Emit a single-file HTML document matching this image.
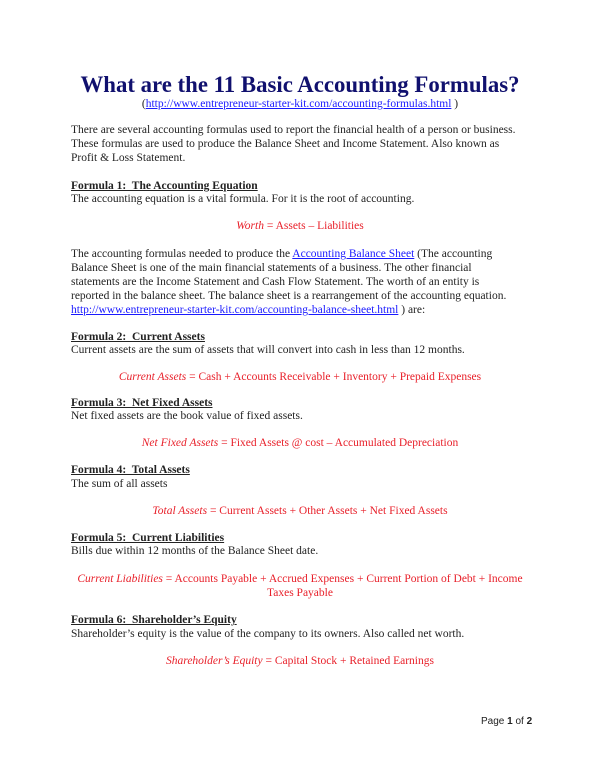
<!DOCTYPE html>
<html><head><meta charset="utf-8"><style>
body{margin:0;width:600px;height:776px;background:#fff;position:relative;overflow:hidden;font-family:"Liberation Serif",serif;color:#222;}
.l{position:absolute;left:71px;font-size:11.5px;line-height:14px;white-space:nowrap;}
.c{left:0;width:600px;text-align:center;}
.h{font-weight:bold;text-decoration:underline;}
.r{color:#e8202a;}
a{color:#1a1aff;text-decoration:underline;}
</style></head><body>
<div class="l c" style="top:70px;font-size:22.8px;line-height:30px;font-weight:bold;color:#10106e;">What are the 11 Basic Accounting Formulas?</div>
<div class="l c" style="top:97px;">(<a>http://www.entrepreneur-starter-kit.com/accounting-formulas.html</a> )</div>
<div class="l" style="top:123px;">There are several accounting formulas used to report the financial health of a person or business.</div>
<div class="l" style="top:137px;">These formulas are used to produce the Balance Sheet and Income Statement. Also known as</div>
<div class="l" style="top:151px;">Profit &amp; Loss Statement.</div>
<div class="l h" style="top:179px;">Formula 1:&nbsp; The Accounting Equation</div>
<div class="l" style="top:192px;">The accounting equation is a vital formula. For it is the root of accounting.</div>
<div class="l c r" style="top:219px;"><i>Worth</i> = Assets – Liabilities</div>
<div class="l" style="top:247px;">The accounting formulas needed to produce the <a>Accounting Balance Sheet</a> (The accounting</div>
<div class="l" style="top:261px;">Balance Sheet is one of the main financial statements of a business. The other financial</div>
<div class="l" style="top:275px;">statements are the Income Statement and Cash Flow Statement. The worth of an entity is</div>
<div class="l" style="top:289px;">reported in the balance sheet. The balance sheet is a rearrangement of the accounting equation.</div>
<div class="l" style="top:303px;"><a>http://www.entrepreneur-starter-kit.com/accounting-balance-sheet.html</a> ) are:</div>
<div class="l h" style="top:330px;">Formula 2:&nbsp; Current Assets</div>
<div class="l" style="top:343px;">Current assets are the sum of assets that will convert into cash in less than 12 months.</div>
<div class="l c r" style="top:370px;"><i>Current Assets</i> = Cash + Accounts Receivable + Inventory + Prepaid Expenses</div>
<div class="l h" style="top:396px;">Formula 3:&nbsp; Net Fixed Assets</div>
<div class="l" style="top:409px;">Net fixed assets are the book value of fixed assets.</div>
<div class="l c r" style="top:436px;"><i>Net Fixed Assets</i> = Fixed Assets @ cost – Accumulated Depreciation</div>
<div class="l h" style="top:463px;">Formula 4:&nbsp; Total Assets</div>
<div class="l" style="top:477px;">The sum of all assets</div>
<div class="l c r" style="top:504px;"><i>Total Assets</i> = Current Assets + Other Assets + Net Fixed Assets</div>
<div class="l h" style="top:531px;">Formula 5:&nbsp; Current Liabilities</div>
<div class="l" style="top:544px;">Bills due within 12 months of the Balance Sheet date.</div>
<div class="l c r" style="top:572px;"><i>Current Liabilities</i> = Accounts Payable + Accrued Expenses + Current Portion of Debt + Income</div>
<div class="l c r" style="top:586px;">Taxes Payable</div>
<div class="l h" style="top:613px;">Formula 6:&nbsp; Shareholder’s Equity</div>
<div class="l" style="top:627px;">Shareholder’s equity is the value of the company to its owners. Also called net worth.</div>
<div class="l c r" style="top:654px;"><i>Shareholder’s Equity</i> = Capital Stock + Retained Earnings</div>
<div class="l" style="top:715px;left:481px;font-family:'Liberation Sans',sans-serif;font-size:10px;">Page <b>1</b> of <b>2</b></div>
</body></html>
